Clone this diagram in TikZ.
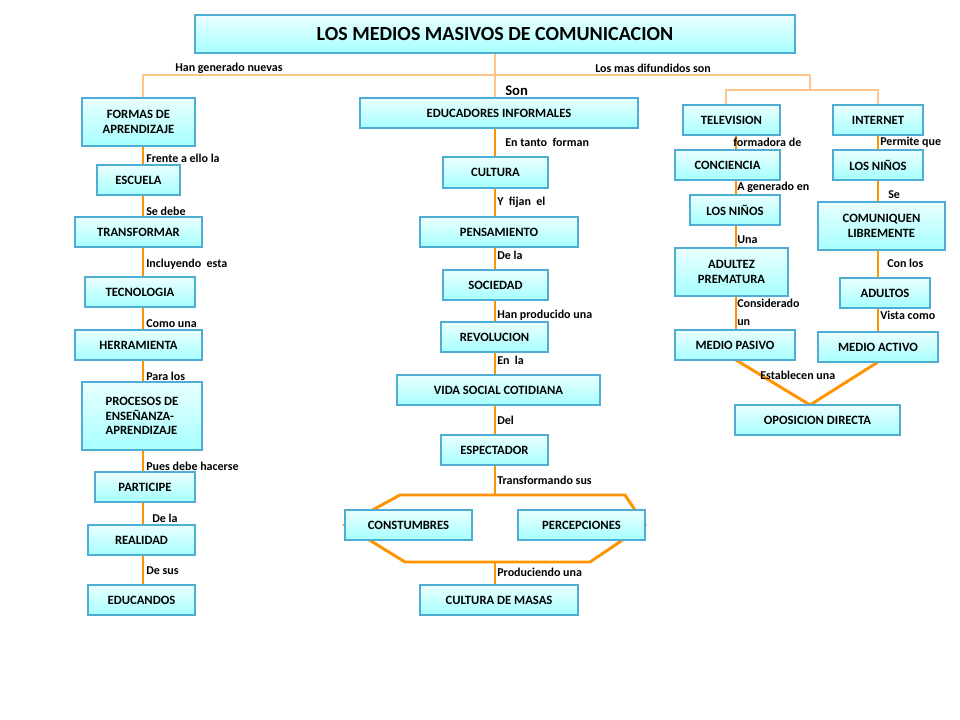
\documentclass[tikz,border=0pt]{standalone}
\usepackage{fontspec}
\setmainfont{Carlito}
\tikzset{
 box/.style={draw=cyan!60!teal!80, line width=0.8pt, top color=cyan!8, bottom color=cyan!35, inner sep=1pt, font=\bfseries\fontsize{9.5}{11}\selectfont, align=center},
 conn/.style={draw=orange!80!red!70!yellow, line width=2.2pt},
 lconn/.style={draw=orange!45, line width=2.2pt},
 lbl/.style={anchor=west, inner sep=0pt, font=\bfseries\fontsize{9}{10.5}\selectfont}
}
\newcommand\bx[6]{\node[box, minimum width={(#4-#2)*0.75pt}, minimum height={(#5-#3)*0.75pt}] (#1) at ({(#2+#4)/2},{(#3+#5)/2}) {#6};}
\newcommand\lb[3]{\node[lbl] at (#1,#2) {#3};}
\begin{document}
\begin{tikzpicture}[x=0.75pt,y=-0.75pt]
\useasboundingbox (0,0) rectangle (960,720);
\fill[white] (0,0) rectangle (960,720);
% connectors first
\coordinate (tl) at (143,75); \coordinate (tr) at (810,75);
\draw[lconn] (143,98) -- (tl) -- (tr) -- (810,90);
\draw[lconn] (726,105) -- (726,90) -- (878,90) -- (878,105);
\draw[lconn] (495,53) -- (495,98);
\draw[conn] (143,146) -- (143,585);
\draw[conn] (495,128) -- (495,495);
\draw[conn] (400,495) -- (625,495) -- (645,525) -- (590,562) -- (405,562) -- (345,525) -- cycle;
\draw[conn] (495,562) -- (495,585);
\draw[conn] (736,135) -- (736,330);
\draw[conn] (878,135) -- (878,332);
\draw[conn] (736,360) -- (810,405) -- (878,362);
% boxes
\node[box, font=\bfseries\fontsize{15}{18}\selectfont, minimum width={600*0.75pt}, minimum height={38*0.75pt}] (title) at (495,34) {LOS MEDIOS MASIVOS DE COMUNICACION};
\bx{formas}{82}{98}{195}{146}{FORMAS DE\\APRENDIZAJE}
\bx{escuela}{97}{165}{180}{195}{ESCUELA}
\bx{transf}{75}{217}{202}{247}{TRANSFORMAR}
\bx{tecno}{85}{277}{195}{307}{TECNOLOGIA}
\bx{herr}{75}{330}{202}{360}{HERRAMIENTA}
\node[box, align=left, minimum width={120*0.75pt}, minimum height={68*0.75pt}] (proc) at (142,416) {PROCESOS DE\\ENSEÑANZA-\\APRENDIZAJE};
\bx{partic}{95}{472}{195}{502}{PARTICIPE}
\bx{realidad}{88}{525}{195}{555}{REALIDAD}
\bx{educandos}{88}{585}{195}{615}{EDUCANDOS}
\bx{educ}{360}{98}{638}{128}{EDUCADORES INFORMALES}
\bx{cultura}{443}{157}{548}{188}{CULTURA}
\bx{pens}{420}{217}{578}{247}{PENSAMIENTO}
\bx{soc}{443}{270}{548}{300}{SOCIEDAD}
\bx{revo}{441}{322}{548}{352}{REVOLUCION}
\bx{vida}{397}{375}{600}{405}{VIDA SOCIAL COTIDIANA}
\bx{espec}{441}{435}{548}{465}{ESPECTADOR}
\bx{cost}{345}{510}{472}{540}{CONSTUMBRES}
\bx{perc}{518}{510}{645}{540}{PERCEPCIONES}
\bx{masas}{420}{585}{578}{615}{CULTURA DE MASAS}
\bx{tv}{683}{105}{780}{135}{TELEVISION}
\bx{conc}{675}{150}{780}{180}{CONCIENCIA}
\bx{ninos}{690}{195}{780}{225}{LOS NIÑOS}
\bx{adul}{675}{248}{788}{296}{ADULTEZ\\PREMATURA}
\bx{pasivo}{675}{330}{795}{360}{MEDIO PASIVO}
\bx{inet}{833}{105}{923}{135}{INTERNET}
\bx{ninos2}{833}{150}{923}{180}{LOS NIÑOS}
\bx{comun}{818}{202}{945}{250}{COMUNIQUEN\\LIBREMENTE}
\bx{adultos}{840}{278}{930}{308}{ADULTOS}
\bx{activo}{818}{332}{938}{362}{MEDIO ACTIVO}
\bx{opos}{735}{405}{900}{435}{OPOSICION DIRECTA}
% labels
\lb{175}{68}{Han generado nuevas}
\lb{595}{68}{Los mas difundidos son}
\node[lbl, font=\bfseries\fontsize{11}{13}\selectfont] at (505,91) {Son};
\lb{146}{158}{Frente a ello la}
\lb{146}{211}{Se debe}
\lb{146}{264}{Incluyendo\ \ esta}
\lb{146}{324}{Como una}
\lb{146}{376}{Para los}
\lb{146}{466}{Pues debe hacerse}
\lb{152}{518}{De la}
\lb{146}{571}{De sus}
\lb{505}{142}{En tanto\ \ forman}
\lb{497}{202}{Y\ \ fijan\ \ el}
\lb{497}{255}{De la}
\lb{497}{315}{Han producido una}
\lb{497}{360}{En\ \ la}
\lb{497}{420}{Del}
\lb{497}{480}{Transformando sus}
\lb{497}{572}{Produciendo una}
\lb{733}{142}{formadora de}
\lb{737}{187}{A generado en}
\lb{737}{240}{Una}
\lb{737}{303}{Considerado}
\lb{737}{323}{un}
\lb{760}{375}{Establecen una}
\lb{880}{142}{Permite que}
\lb{888}{195}{Se}
\lb{887}{263}{Con los}
\lb{880}{315}{Vista como}
\end{tikzpicture}
\end{document}
